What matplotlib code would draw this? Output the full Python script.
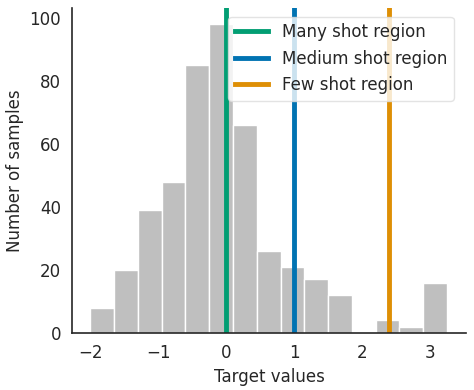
import numpy as np
import matplotlib
matplotlib.use("Agg")
import matplotlib.pyplot as plt

# Data
bin_start = -2.0
bin_end = 3.25
counts = [8, 20, 39, 48, 85, 98, 66, 26, 21, 17, 12, 0, 4, 2, 16]
region_labels = ["Many shot region", "Medium shot region", "Few shot region"]
region_x = [0.0, 1.0, 2.40]
region_colors = ["#029e73", "#0173b2", "#de8f05"]

edges = np.linspace(bin_start, bin_end, len(counts) + 1)
centers = (edges[:-1] + edges[1:]) / 2

plt.rcParams['font.family'] = ['DejaVu Sans']
plt.rcParams['text.color'] = '#262626'
plt.rcParams['axes.labelcolor'] = '#262626'
plt.rcParams['xtick.color'] = '#262626'
plt.rcParams['ytick.color'] = '#262626'
fig = plt.figure(figsize=(4.74, 3.90), dpi=100)
ax = fig.add_axes([0.152, 0.146, 0.831, 0.833])

ax.hist(centers, bins=edges, weights=counts, color="#bfbfbf", edgecolor="white", linewidth=1)
for lab, x, c in zip(region_labels, region_x, region_colors):
    ax.axvline(x, color=c, lw=3.5, label=lab)

ax.set_ylim(0, 103)
ax.set_xlim(-2.27, 3.53)
ax.set_xticks([-2, -1, 0, 1, 2, 3])
ax.set_yticks([0, 20, 40, 60, 80, 100])
ax.set_xlabel("Target values", fontsize=12)
ax.set_ylabel("Number of samples", fontsize=12)
ax.tick_params(labelsize=12, length=0, pad=8)
for s in ["top", "right"]:
    ax.spines[s].set_visible(False)
for s in ["left", "bottom"]:
    ax.spines[s].set_linewidth(1.2)
    ax.spines[s].set_color("#262626")
leg = ax.legend(loc="upper right", fontsize=12, handlelength=2, frameon=True,
                borderaxespad=0.5, bbox_to_anchor=(0.99, 1.0))
leg.get_frame().set_edgecolor("#dddddd")

fig.savefig("out.png", dpi=100)
